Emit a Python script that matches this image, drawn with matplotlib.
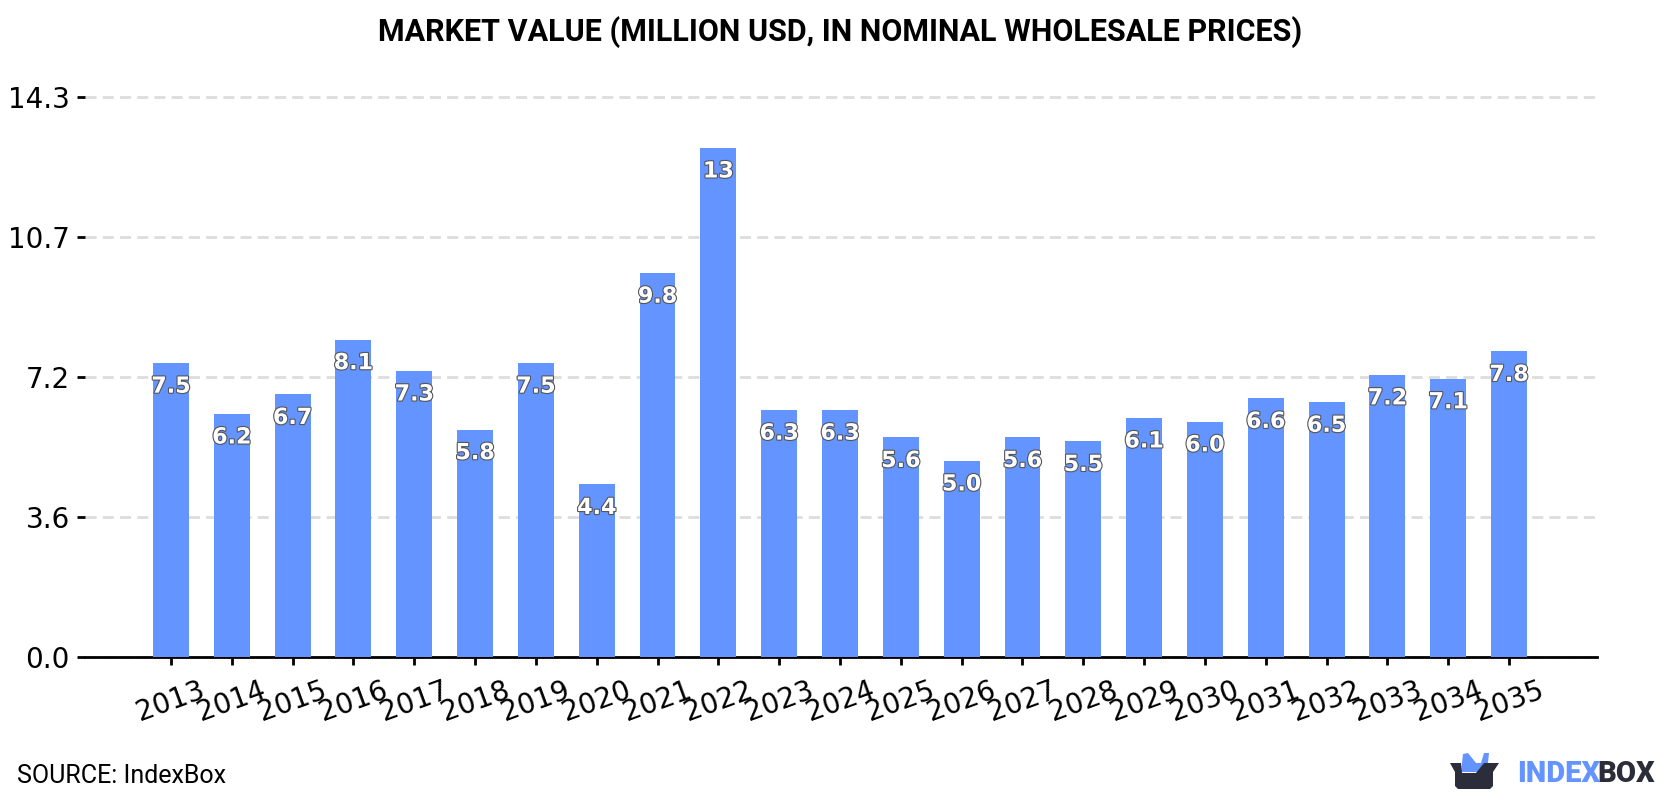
import matplotlib
matplotlib.use('Agg')
import matplotlib.patheffects as pe
import matplotlib.pyplot as plt
from matplotlib.patches import Polygon

years = ['2013', '2014', '2015', '2016', '2017', '2018', '2019', '2020', '2021', '2022', '2023', '2024',
         '2025', '2026', '2027', '2028', '2029', '2030', '2031', '2032', '2033', '2034', '2035']
values = [7.5, 6.2, 6.7, 8.1, 7.3, 5.8, 7.5, 4.4, 9.8, 13, 6.3, 6.3,
          5.6, 5.0, 5.6, 5.5, 6.1, 6.0, 6.6, 6.5, 7.2, 7.1, 7.8]
value_labels = ['7.5', '6.2', '6.7', '8.1', '7.3', '5.8', '7.5', '4.4', '9.8', '13', '6.3', '6.3',
                '5.6', '5.0', '5.6', '5.5', '6.1', '6.0', '6.6', '6.5', '7.2', '7.1', '7.8']
y_ticks = [0, 3.575, 7.15, 10.725, 14.3]
y_tick_labels = ['0.0', '3.6', '7.2', '10.7', '14.3']

BLUE = '#6394ff'
DARK = '#2b2d3a'
W, H = 1680, 800

fig = plt.figure(figsize=(W / 100, H / 100), dpi=100)
ax = fig.add_axes([85 / W, 1 - 656.5 / H, (1597 - 85) / W, (656.5 - 97) / H])

x = list(range(len(years)))
ax.bar(x, values, width=0.59, color=BLUE, zorder=3)
ax.set_xlim(-1.413, 23.446)
ax.set_ylim(0, 14.3)

ax.set_yticks(y_ticks)
ax.set_yticklabels(y_tick_labels)
ax.set_xticks(x)
ax.set_xticklabels(years, rotation=20)
ax.tick_params(axis='both', labelsize=20, length=6, width=2, color='black')
ax.tick_params(axis='x', pad=8)
ax.tick_params(axis='y', pad=5)

# dashed guides only, the top one sits on the axes edge
ax.grid(axis='y', color='#dddddd', linestyle=(0, (4, 2.2)), linewidth=2, zorder=1, clip_on=False)
ax.set_axisbelow(True)
for side in ['top', 'left', 'right']:
    ax.spines[side].set_visible(False)
ax.spines['bottom'].set_linewidth(2)

# value labels just under the top of each bar
for xi, v, lab in zip(x, values, value_labels):
    ax.annotate(lab, (xi, v), xytext=(0, -17), textcoords='offset points', ha='center', va='center',
                color='white', fontsize=16, fontweight='bold', zorder=5,
                path_effects=[pe.withStroke(linewidth=1.6, foreground='#555555')])

fig.text(0.5, 1 - 32 / H, 'MARKET VALUE (MILLION USD, IN NOMINAL WHOLESALE PRICES)', ha='center', va='center',
         family='Roboto', fontweight='bold', fontsize=22, color='black')
fig.text(17 / W, 1 - 776 / H, 'SOURCE: IndexBox', ha='left', va='center', family='Roboto', fontsize=18,
         color='black')

# logo, laid out in pixel coordinates
ax_logo = fig.add_axes([0, 0, 1, 1], facecolor='none')
ax_logo.set_xlim(0, W)
ax_logo.set_ylim(H, 0)
ax_logo.axis('off')
ax_logo.add_patch(Polygon([(1461, 772), (1463, 754), (1468, 753), (1476, 763), (1481, 763), (1484, 753),
                           (1489, 753), (1487, 772)], closed=True, color=BLUE, lw=0))
ax_logo.add_patch(Polygon([(1450, 763), (1461, 763), (1462, 773), (1476, 773), (1484, 763), (1499, 763),
                           (1493, 772), (1493, 786), (1490, 789), (1458, 789), (1455, 786), (1455, 772)],
                          closed=True, color=DARK, lw=0))
ax_logo.text(1517, 774, 'INDEX', ha='left', va='center', family='Roboto', fontweight='black', fontsize=21,
             color=BLUE)
ax_logo.text(1597, 774, 'BOX', ha='left', va='center', family='Roboto', fontweight='black', fontsize=21,
             color=DARK)

fig.savefig('out.png', dpi=100)
